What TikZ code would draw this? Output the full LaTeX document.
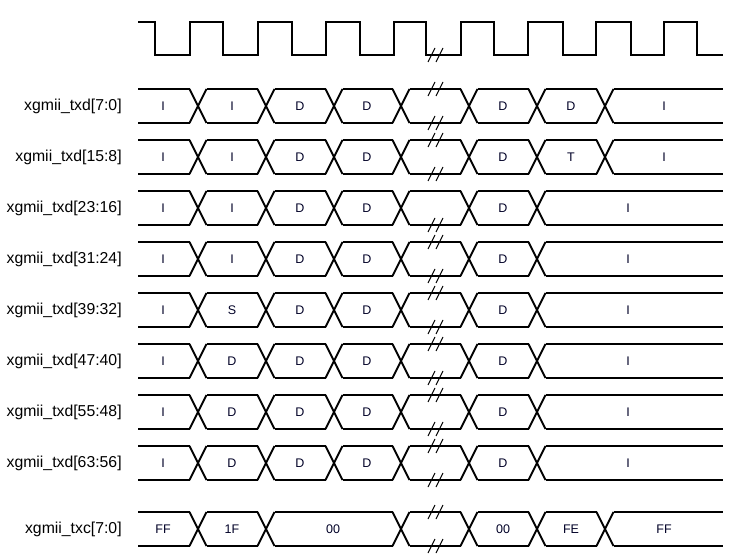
\documentclass[tikz,border=0pt]{standalone}
\usepackage{fontspec}
\setmainfont{Liberation Sans}
\begin{document}
\begin{tikzpicture}[x=1pt,y=-1pt,line width=2pt,
  lbl/.style={anchor=east,font=\fontsize{15.8}{18}\selectfont},
  val/.style={font=\fontsize{12.5}{14}\selectfont,text=black!85!blue},
  brk/.style={line width=1pt}]
\useasboundingbox (0,0) rectangle (729,559);
\newcommand\busrow[2]{%
  \foreach \c in {#2}{\draw (\c-8.5,#1)--(\c+8.5,#1+34) (\c-8.5,#1+34)--(\c+8.5,#1);}
  \foreach \c [remember=\c as \p (initially 129.5)] in {#2,731.5}{%
    \draw (\p+8.5,#1)--(\c-8.5,#1) (\p+8.5,#1+34)--(\c-8.5,#1+34);}
}
\newcommand\brkmark[1]{\draw[brk] (428,#1+7)--(435,#1-7) (436,#1+7)--(443,#1-7);}
% clock
\draw (138,22)--(155,22)--(155,55)--(190,55)--(190,22)--(223,22)--(223,55)--(258,55)--(258,22)--(292,22)--(292,55)--(326,55)--(326,22)--(360,22)--(360,55)--(394,55)--(394,22)--(426,22)--(426,55)--(461,55)--(461,22)--(494,22)--(494,55)--(528,55)--(528,22)--(563,22)--(563,55)--(596,55)--(596,22)--(631,22)--(631,55)--(664,55)--(664,22)--(697,22)--(697,55)--(723,55);
\brkmark{55}
% rows
\foreach \t/\l in {89/{[7:0]},140/{[15:8]},191/{[23:16]},242/{[31:24]},293/{[39:32]},344/{[47:40]},395/{[55:48]},446/{[63:56]}}{%
  \node[lbl] (l\t) at (126,\t+17) {xgmii\_txd\l};
}
\busrow{89}{198,266,334,401,469,537,605}
\busrow{140}{198,266,334,401,469,537,605}
\foreach \t in {191,242,293,344,395,446}{\busrow{\t}{198,266,334,401,469,537}}
\busrow{512}{198,266,401,469,537,605}
\node[lbl] (lc) at (126,529) {xgmii\_txc[7:0]};
% break marks
\foreach \y in {89,123,140,174,225,242,276,293,327,344,378,395,429,446,480,512,546}{\brkmark{\y}}
% values
\newcommand\vals[2]{\foreach \x/\v in {#2}{\node[val] at (\x,#1+17) {\v};}}
\vals{89}{163/I,232/I,300/D,367/D,503/D,571/D,664/I}
\vals{140}{163/I,232/I,300/D,367/D,503/D,571/T,664/I}
\vals{191}{163/I,232/I,300/D,367/D,503/D,628/I}
\vals{242}{163/I,232/I,300/D,367/D,503/D,628/I}
\vals{293}{163/I,232/S,300/D,367/D,503/D,628/I}
\vals{344}{163/I,232/D,300/D,367/D,503/D,628/I}
\vals{395}{163/I,232/D,300/D,367/D,503/D,628/I}
\vals{446}{163/I,232/D,300/D,367/D,503/D,628/I}
\vals{512}{163/FF,232/1F,333/00,503/00,571/FE,664/FF}
\end{tikzpicture}
\end{document}
